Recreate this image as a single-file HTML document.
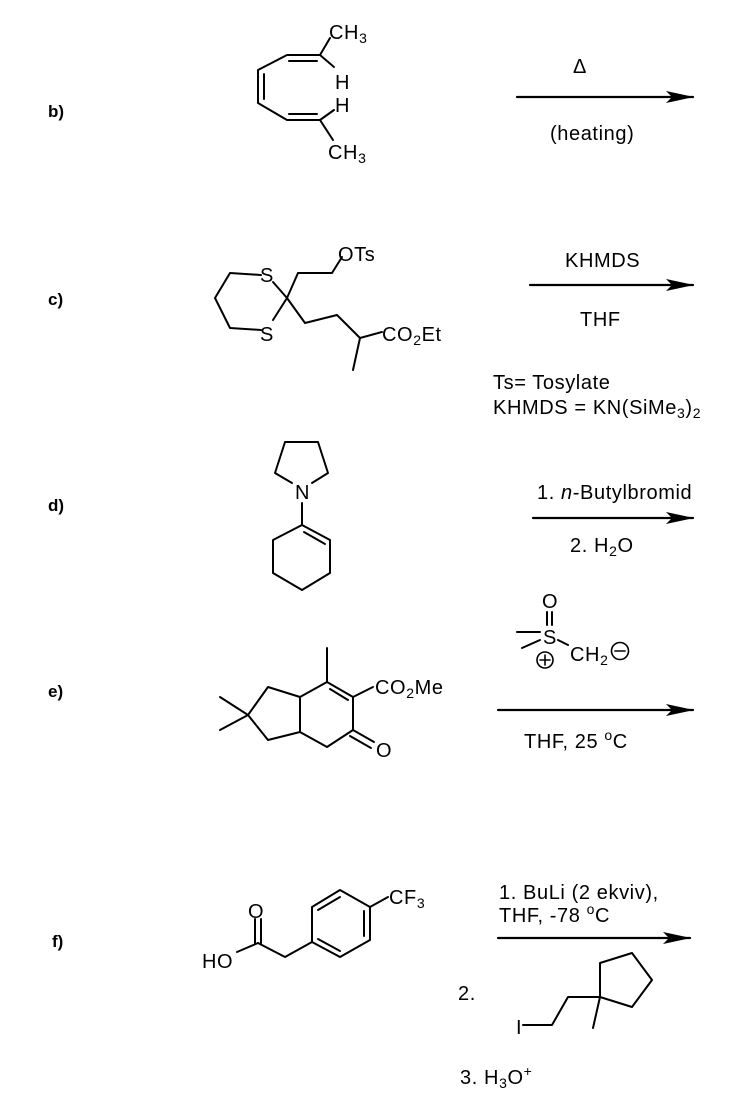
<!DOCTYPE html>
<html><head><meta charset="utf-8"><style>
html,body{margin:0;padding:0;background:#fff}
svg{display:block}
text{font-family:"Liberation Sans",Arial,sans-serif;font-size:20px;letter-spacing:0.6px;fill:#000}
.b{font-weight:bold;font-size:17px;letter-spacing:0}
</style></head><body>
<svg width="730" height="1120" viewBox="0 0 730 1120" xmlns="http://www.w3.org/2000/svg">
<defs><marker id="ah" markerWidth="28" markerHeight="12" refX="27" refY="6" orient="auto" markerUnits="userSpaceOnUse"><path d="M0,0 L28,6 L0,12 L6,6 Z" fill="#000"/></marker></defs>
<g stroke="#000" stroke-width="2" fill="none" stroke-linejoin="round" stroke-linecap="round">
<!-- b -->
<polyline points="330,38 320,55 287,55 258,70 258,103 287,120 320,120 333,140"/>
<line x1="289" y1="61" x2="317" y2="61"/>
<line x1="264" y1="74" x2="264" y2="99"/>
<line x1="289" y1="114" x2="317" y2="114"/>
<line x1="320" y1="55" x2="334" y2="67"/>
<line x1="320" y1="120" x2="334" y2="110"/>
<!-- c -->
<polyline points="261,275 230,273 215,298 230,328 261,330"/>
<line x1="273" y1="282" x2="287" y2="298"/><line x1="273" y1="320" x2="287" y2="298"/>
<polyline points="287,298 298,273 332,273 342,257"/>
<polyline points="287,298 305,323 337,315 360,338 382,332"/>
<line x1="360" y1="338" x2="353" y2="370"/>
<!-- d -->
<polyline points="292,483 275,473 285,442 318,442 328,473 312,483"/>
<line x1="302" y1="503" x2="302" y2="525"/>
<polygon points="302,525 330,540 330,573 302,590 273,573 273,540"/>
<line x1="304" y1="532" x2="325" y2="544"/>
<!-- e -->
<polyline points="327,648 327,682 353,697 353,730 327,747 300,732 300,697 327,682"/>
<line x1="330" y1="689" x2="348" y2="700"/>
<line x1="353" y1="697" x2="373" y2="687"/>
<line x1="353" y1="730" x2="374" y2="742"/><line x1="350" y1="736" x2="371" y2="748"/>
<polyline points="300,697 268,687 248,715 268,740 300,732"/>
<line x1="248" y1="715" x2="220" y2="697"/><line x1="248" y1="715" x2="220" y2="730"/>
<!-- f -->
<line x1="237" y1="952" x2="258" y2="943"/>
<line x1="255" y1="943" x2="255" y2="919"/><line x1="261" y1="943" x2="261" y2="919"/>
<polyline points="258,943 285,957 312,942"/>
<polygon points="312,942 312,907 340,890 370,907 370,940 340,957"/>
<line x1="318" y1="910" x2="340" y2="897"/>
<line x1="364" y1="911" x2="364" y2="936"/>
<line x1="318" y1="939" x2="340" y2="951"/>
<line x1="370" y1="907" x2="388" y2="897"/>
<polyline points="523,1025 552,1025 568,997 600,997"/>
<polygon points="600,997 600,963 632,953 652,980 632,1007"/>
<line x1="600" y1="997" x2="593" y2="1028"/>
<!-- ylide -->
<line x1="547" y1="612" x2="547" y2="625"/><line x1="552" y1="612" x2="552" y2="625"/>
<line x1="517" y1="632" x2="540" y2="632"/><line x1="522" y1="648" x2="540" y2="640"/>
<line x1="558" y1="640" x2="568" y2="645"/>
<circle cx="620" cy="651" r="8.5" stroke-width="1.6"/><line x1="615" y1="651" x2="625" y2="651" stroke-width="1.6"/>
<circle cx="545" cy="660" r="8" stroke-width="1.6"/><line x1="540" y1="660" x2="550" y2="660" stroke-width="1.6"/><line x1="545" y1="655" x2="545" y2="665" stroke-width="1.6"/>
<!-- arrows -->
<g stroke-width="2.2">
<line x1="517" y1="97" x2="693" y2="97" marker-end="url(#ah)"/>
<line x1="530" y1="285" x2="693" y2="285" marker-end="url(#ah)"/>
<line x1="533" y1="518" x2="693" y2="518" marker-end="url(#ah)"/>
<line x1="498" y1="710" x2="693" y2="710" marker-end="url(#ah)"/>
<line x1="498" y1="938" x2="690" y2="938" marker-end="url(#ah)"/>
</g>
</g>
<!-- labels -->
<text class="b" x="48" y="117">b)</text>
<text class="b" x="48" y="305">c)</text>
<text class="b" x="48" y="511">d)</text>
<text class="b" x="48" y="697">e)</text>
<text class="b" x="52" y="947">f)</text>
<!-- b texts -->
<text x="329" y="39">CH<tspan font-size="14" dy="4">3</tspan></text>
<text x="335" y="89">H</text>
<text x="335" y="112">H</text>
<text x="328" y="159">CH<tspan font-size="14" dy="4">3</tspan></text>
<text x="573" y="73">Δ</text>
<text x="550" y="140">(heating)</text>
<!-- c texts -->
<text x="260" y="282">S</text>
<text x="260" y="341">S</text>
<text x="338" y="261">OTs</text>
<text x="382" y="341">CO<tspan font-size="14" dy="4">2</tspan><tspan dy="-4">Et</tspan></text>
<text x="565" y="267">KHMDS</text>
<text x="580" y="326">THF</text>
<text x="493" y="389">Ts= Tosylate</text>
<text x="493" y="414">KHMDS = KN(SiMe<tspan font-size="14" dy="4">3</tspan><tspan dy="-4">)</tspan><tspan font-size="14" dy="4">2</tspan></text>
<!-- d texts -->
<text x="295" y="499">N</text>
<text x="537" y="499">1. <tspan font-style="italic">n</tspan>-Butylbromid</text>
<text x="570" y="552">2. H<tspan font-size="14" dy="4">2</tspan><tspan dy="-4">O</tspan></text>
<!-- e texts -->
<text x="375" y="694">CO<tspan font-size="14" dy="4">2</tspan><tspan dy="-4">Me</tspan></text>
<text x="376" y="757">O</text>
<text x="542" y="608">O</text>
<text x="543" y="644">S</text>
<text x="570" y="661">CH<tspan font-size="14" dy="4">2</tspan></text>
<text x="524" y="748">THF,  25 <tspan font-size="14" dy="-8">o</tspan><tspan dy="8">C</tspan></text>
<!-- f texts -->
<text x="202" y="968">HO</text>
<text x="248" y="918">O</text>
<text x="389" y="904">CF<tspan font-size="14" dy="4">3</tspan></text>
<text x="499" y="899">1. BuLi (2 ekviv),</text>
<text x="499" y="922">THF, -78 <tspan font-size="14" dy="-8">o</tspan><tspan dy="8">C</tspan></text>
<text x="458" y="1000">2.</text>
<text x="516" y="1034">I</text>
<text x="460" y="1084">3. H<tspan font-size="14" dy="4">3</tspan><tspan dy="-4">O</tspan><tspan font-size="14" dy="-8">+</tspan></text>
</svg>
</body></html>
